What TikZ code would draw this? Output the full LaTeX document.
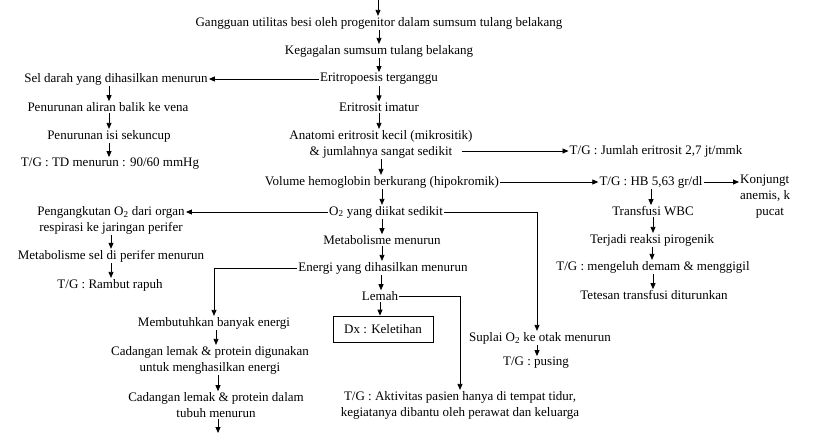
\documentclass[tikz,border=0pt]{standalone}
\usepackage{fontspec}
\setmainfont{Liberation Serif}
\usetikzlibrary{arrows.meta,calc}
\tikzset{
  lbl/.style={inner sep=1pt, font=\fontsize{13}{16}\selectfont, align=center},
  arr/.style={line width=0.8pt, -{Triangle[length=6pt,width=5pt]}},
  ln/.style={line width=0.8pt},
  dxbox/.style={lbl, draw, line width=0.8pt, minimum width=100pt, minimum height=26pt}
}
\begin{document}
\begin{tikzpicture}[x=1pt,y=-1pt]
\useasboundingbox (0,0) rectangle (825,433);
\clip (0,0) rectangle (825,433);
% central column
\coordinate (top) at (378,0);
\node[lbl] (g1) at (379,23) {Gangguan utilitas besi oleh progenitor dalam sumsum tulang belakang};
\node[lbl] (g2) at (379,51) {Kegagalan sumsum tulang belakang};
\node[lbl] (g3) at (379,79) {Eritropoesis terganggu};
\node[lbl] (g4) at (379,107) {Eritrosit imatur};
\node[lbl] (g5) at (381,144) {Anatomi eritrosit kecil (mikrositik)\\\& jumlahnya sangat sedikit};
\node[lbl] (g6) at (382,182) {Volume hemoglobin berkurang (hipokromik)};
\node[lbl] (g7) at (386,212) {O\textsubscript{2} yang diikat sedikit};
\node[lbl] (g8) at (382,240) {Metabolisme menurun};
\node[lbl] (g9) at (383,268) {Energi yang dihasilkan menurun};
\node[lbl] (g10) at (380,296) {Lemah};
\node[dxbox] (dx) at (383,329) {Dx : Keletihan};
% left column top
\node[lbl] (l1) at (116,79) {Sel darah yang dihasilkan menurun};
\node[lbl] (l2) at (108,107) {Penurunan aliran balik ke vena};
\node[lbl] (l3) at (109,136) {Penurunan isi sekuncup};
\node[lbl] (l4) at (110,164) {T/G : TD menurun : 90/60 mmHg};
% left column middle
\node[lbl] (p1) at (111,220) {Pengangkutan O\textsubscript{2} dari organ\\respirasi ke jaringan perifer};
\node[lbl] (p2) at (111,256) {Metabolisme sel di perifer menurun};
\node[lbl] (p3) at (110,285) {T/G : Rambut rapuh};
% energy branch
\node[lbl] (e1) at (214,323) {Membutuhkan banyak energi};
\node[lbl] (e2) at (210,360) {Cadangan lemak \& protein digunakan\\untuk menghasilkan energi};
\node[lbl] (e3) at (216,405) {Cadangan lemak \& protein dalam\\tubuh menurun};
\coordinate (bot) at (218,433);
% right
\node[lbl] (r1) at (656,151) {T/G : Jumlah eritrosit 2,7 jt/mmk};
\node[lbl] (r2) at (651,182) {T/G : HB 5,63 gr/dl};
\node[lbl, align=left, anchor=north west] (konj) at (739,174) {Konjungt\\anemis, k\\\hspace*{1.2em}pucat};
\node[lbl] (r3) at (653,211) {Transfusi WBC};
\node[lbl] (r4) at (652,240) {Terjadi reaksi pirogenik};
\node[lbl] (r5) at (653,267) {T/G : mengeluh demam \& menggigil};
\node[lbl] (r6) at (654,295) {Tetesan transfusi diturunkan};
\node[lbl] (s1) at (540,338) {Suplai O\textsubscript{2} ke otak menurun};
\node[lbl] (s2) at (536,363) {T/G : pusing};
\node[lbl] (a1) at (460,405) {T/G : Aktivitas pasien hanya di tempat tidur,\\kegiatanya dibantu oleh perawat dan keluarga};

% connectors central
\draw[arr] (top) -- (top |- g1.north);
\draw[arr] (g1.south) -- (g1.south |- g2.north);
\draw[arr] (g2.south) -- (g2.south |- g3.north);
\draw[arr] (g3.south) -- (g3.south |- g4.north);
\draw[arr] (g4.south) -- (g4.south |- g5.north);
\draw[arr] (g5.south) -- (g5.south |- g6.north);
\draw[arr] (g6.south) -- (g6.south |- g7.north);
\draw[arr] ([xshift=-4pt]g7.south) -- ([xshift=-4pt]g7.south |- g8.north);
\draw[arr] (g8.south) -- (g8.south |- g9.north);
\draw[arr] ([xshift=-2pt]g9.south) -- ([xshift=-2pt]g9.south |- g10.north);
\draw[arr] (g10.south) -- (g10.south |- dx.north);
% left top
\draw[arr] (g3.west) -- (l1.east);
\draw[arr] ([xshift=-7pt]l1.south) -- ([xshift=-7pt]l1.south |- l2.north);
\draw[arr] (l3.north |- l2.south) -- (l3.north);
\draw[arr] (l3.south) -- (l3.south |- l4.north);
% left middle
\draw[arr] (g7.west) -- (g7.west -| p1.east);
\draw[arr] (p1.south) -- (p1.south |- p2.north);
\draw[arr] (p2.south) -- (p2.south |- p3.north);
% energy branch
\draw[arr] (g9.west) -| (e1.north);
\draw[arr] ([xshift=2pt]e1.south) -- ([xshift=2pt]e1.south |- e2.north);
\draw[arr] ([xshift=8pt]e2.south) -- ([xshift=8pt]e2.south |- e3.north);
\draw[arr] (e3.south -| bot) -- (bot);
% lemah branch
\draw[arr] (g10.east) -| (a1.north);
% O2 branch
\draw[arr] (g7.east) -| ([xshift=-3pt]s1.north);
\draw[arr] ([xshift=-3pt]s1.south) -- ([xshift=-3pt]s1.south |- s2.north);
% right
\draw[arr] ($(g5.east |- r1.west)+(-12pt,0)$) -- (r1.west);
\draw[arr] (g6.east) -- (r2.west);
\draw[arr] (r2.east) -- (r2.east -| konj.west);
\draw[arr] (r2.south) -- (r2.south |- r3.north);
\draw[arr] (r3.south) -- (r3.south |- r4.north);
\draw[arr] (r4.south) -- (r4.south |- r5.north);
\draw[arr] (r5.south) -- (r5.south |- r6.north);
\end{tikzpicture}
\end{document}
